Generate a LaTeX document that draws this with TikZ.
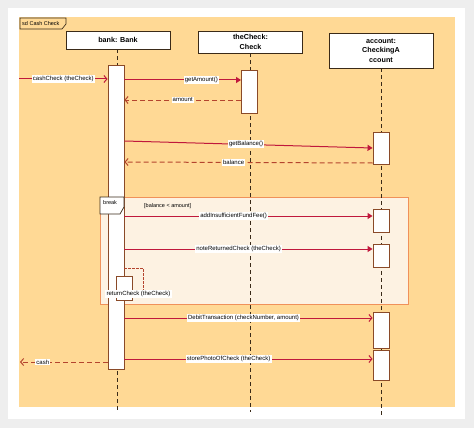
\documentclass[tikz,border=0pt]{standalone}
\usepackage{fontspec}
\setmainfont{Liberation Sans}
\usetikzlibrary{arrows.meta}
\definecolor{pagegrey}{HTML}{EEEEEE}
\definecolor{frameorange}{HTML}{FFD995}
\definecolor{breakfill}{HTML}{FDF2E2}
\definecolor{breakedge}{HTML}{F0915A}
\definecolor{msgred}{HTML}{C0183C}
\definecolor{retred}{HTML}{B4442E}
\definecolor{actedge}{HTML}{8A4A28}
\definecolor{lifedark}{HTML}{3A2A18}
\tikzset{
  head/.style={draw=lifedark, line width=0.9pt, fill=white, minimum width=104pt, align=center,
    font=\fontsize{7.2}{9.5}\selectfont\bfseries, inner sep=1pt},
  actbar/.style={draw=actedge, line width=0.9pt, fill=white, minimum width=16pt, inner sep=0pt},
  lifeline/.style={draw=lifedark, line width=1pt, dash pattern=on 4pt off 3pt},
  msg/.style={draw=msgred, line width=1pt, -{Triangle[length=5pt,width=6pt]}},
  msgopen/.style={draw=msgred, line width=1pt, -{Straight Barb[length=3pt,width=7pt]}},
  ret/.style={draw=retred, line width=1pt, dash pattern=on 5pt off 3pt, -{Straight Barb[length=3pt,width=7pt]}},
  lbl/.style={fill=white, inner sep=1.2pt, font=\fontsize{6}{6.5}\selectfont, text=black},
  tabtext/.style={font=\fontsize{5.5}{6}\selectfont, inner sep=0pt, anchor=west},
}
\begin{document}
\begin{tikzpicture}[x=1pt,y=-1pt]
\useasboundingbox (0,0) rectangle (474,428);
% page
\fill[pagegrey] (0,0) rectangle (474,428);
\fill[white] (8,8) rectangle (465,419);
\fill[frameorange] (19,17) rectangle (455,407);
% sd tab
\draw[lifedark, line width=0.7pt, fill=frameorange] (20,18) -- (66,18) -- (66,24) -- (62,29) -- (20,29) -- cycle;
\node[tabtext] (sdlabel) at (22,23.5) {sd Cash Check};
% break fragment
\draw[breakedge, line width=1pt, fill=breakfill] (100,197) rectangle (408,304);
% lifeline heads
\node[head, minimum height=18pt] (bankH) at (118,40) {bank: Bank};
\node[head, minimum height=22pt] (checkH) at (250.5,42) {theCheck:\\Check};
\node[head, minimum height=35pt] (accH) at (381,50.5) {account:\\CheckingA\\ccount};
% lifelines
\coordinate (bankEnd) at (117,412);
\coordinate (checkEnd) at (250,412);
\coordinate (accEnd) at (381,418);
\draw[lifeline] (bankH.south -| bankEnd) -- (bankEnd);
\draw[lifeline] (checkH.south -| checkEnd) -- (checkEnd);
\draw[lifeline] (accH.south -| accEnd) -- (accEnd);
% activation bars
\node[actbar, minimum height=304pt] (bankA) at (116,217) {};
\node[actbar, minimum height=43pt] (checkA) at (249.5,91.5) {};
\node[actbar, minimum height=32pt] (accA1) at (381,148) {};
\node[actbar, minimum height=23pt] (accA2) at (381,220.5) {};
\node[actbar, minimum height=23pt] (accA3) at (381,255.5) {};
\node[actbar, minimum height=36pt] (accA4) at (381,330) {};
\node[actbar, minimum height=30pt] (accA5) at (381,365) {};
\node[actbar, minimum height=24pt] (selfA) at (124,288) {};
% break tab
\draw[lifedark, line width=0.7pt, fill=white] (100,197) -- (124,197) -- (124,207) -- (120,214) -- (100,214) -- cycle;
\node[tabtext] (breaklabel) at (103,203) {break};
\node[tabtext] (guard) at (144,206) {[balance < amount]};
% messages
\coordinate (found) at (19,79);
\draw[msgopen] (found) -- (bankA.west |- found) node[lbl, pos=0.5] {cashCheck (theCheck)};
\draw[msg] (bankA.east |- 0,80) -- (checkA.west |- 0,80) node[lbl, pos=0.66] {getAmount()};
\draw[ret] (checkA.west |- 0,100) -- (bankA.east |- 0,100) node[lbl, pos=0.5] {amount};
\draw[msg] (bankA.east |- 0,141) -- (accA1.west |- 0,148) node[lbl, pos=0.49] {getBalance()};
\draw[ret] (accA1.west |- 0,163) -- (bankA.east |- 0,162) node[lbl, pos=0.56] {balance};
\draw[msg] (bankA.east |- 0,216) -- (accA2.west |- 0,216) node[lbl, pos=0.44] {addInsufficientFundFee()};
\draw[msg] (bankA.east |- 0,249) -- (accA3.west |- 0,249) node[lbl, pos=0.46] {noteReturnedCheck (theCheck)};
\draw[retred, line width=0.9pt, dash pattern=on 2.5pt off 1.5pt, -{Straight Barb[length=3pt,width=7pt]}]
  (bankA.east |- 0,268) -- (143,268) -- (143,294) -- (selfA.east |- 0,294);
\node[lbl] (retlabel) at (138.5,294) {returnCheck (theCheck)};
\draw[msgopen] (bankA.east |- 0,318) -- (accA4.west |- 0,318) node[lbl, pos=0.48] {DebitTransaction (checkNumber, amount)};
\draw[msgopen] (bankA.east |- 0,359) -- (accA5.west |- 0,359) node[lbl, pos=0.42] {storePhotoOfCheck (theCheck)};
\coordinate (lost) at (20,362);
\draw[ret] (bankA.west |- lost) -- (lost) node[lbl, pos=0.74] {cash};
\end{tikzpicture}
\end{document}
